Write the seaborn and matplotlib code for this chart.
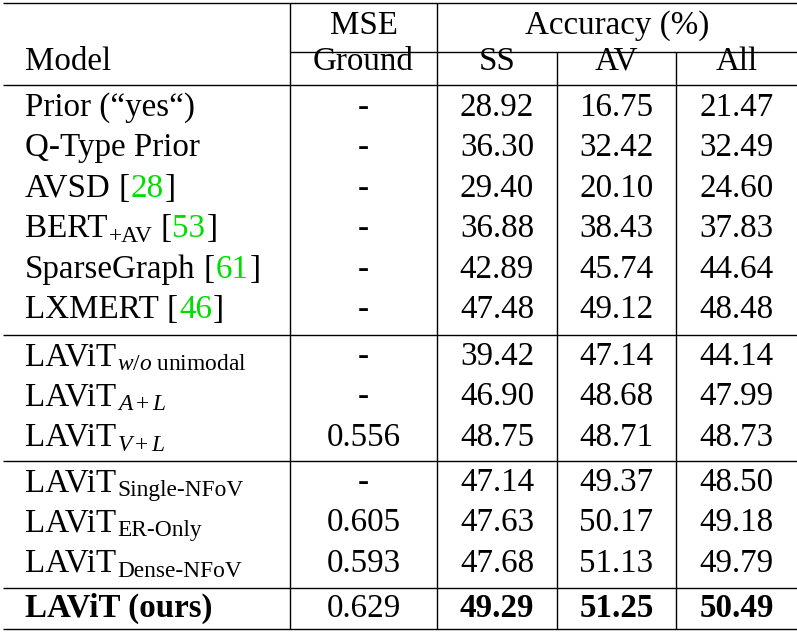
import matplotlib
matplotlib.use("Agg")
import matplotlib.pyplot as plt
import seaborn as sns
import pandas as pd

sns.set_theme(style="white")
plt.rcParams['font.family'] = ['Liberation Serif', 'DejaVu Serif']
plt.rcParams['text.color'] = 'black'
plt.rcParams['mathtext.fontset'] = 'custom'
plt.rcParams['mathtext.rm'] = 'Liberation Serif'
plt.rcParams['mathtext.it'] = 'Liberation Serif:italic'
plt.rcParams['mathtext.bf'] = 'Liberation Serif:bold'

# ===== DATA =====
models = ["Prior (\u201cyes\u201c)", "Q-Type Prior", "AVSD", "BERT", "SparseGraph", "LXMERT",
          "LAViT", "LAViT", "LAViT",
          "LAViT", "LAViT", "LAViT",
          "LAViT (ours)"]
subscripts = ["", "", "", "+AV", "", "",
              "$w/o$ unimodal", "$A+L$", "$V+L$",
              "Single-NFoV", "ER-Only", "Dense-NFoV",
              ""]
refs = ["", "", "28", "53", "61", "46", "", "", "", "", "", "", ""]
mse_ground = [None, None, None, None, None, None, None, None, 0.556, None, 0.605, 0.593, 0.629]
acc_ss = [28.92, 36.30, 29.40, 36.88, 42.89, 47.48, 39.42, 46.90, 48.75, 47.14, 47.63, 47.68, 49.29]
acc_av = [16.75, 32.42, 20.10, 38.43, 45.74, 49.12, 47.14, 48.68, 48.71, 49.37, 50.17, 51.13, 51.25]
acc_all = [21.47, 32.49, 24.60, 37.83, 44.64, 48.48, 44.14, 47.99, 48.73, 48.50, 49.18, 49.79, 50.49]
groups = [0, 0, 0, 0, 0, 0, 1, 1, 1, 2, 2, 2, 3]

df = pd.DataFrame({'model': models, 'sub': subscripts, 'ref': refs, 'mse': mse_ground,
                   'ss': acc_ss, 'av': acc_av, 'all': acc_all, 'group': groups})
df['pos'] = df.groupby('group').cumcount()

# ===== LAYOUT =====
W, H = 797, 633
FS = 23.8
SUB_FS = 16.8
GREEN = '#00dd00'
col_edges = [290, 437, 557, 676, W]
col_centers = [(col_edges[i] + col_edges[i + 1]) / 2 for i in range(4)]
group_start = [116, 365, 491, 617]
pitch = 40.4
group_lines = [85, 335, 461, 588, 629]

fig = plt.figure(figsize=(W / 100, H / 100), dpi=100)
ax = fig.add_axes([0, 0, 1, 1])
ax.set_xlim(0, W)
ax.set_ylim(H, 0)
ax.axis('off')
renderer = fig.canvas.get_renderer()


def draw_segments(x, y, segments):
    # segments: (text, size, color, weight, dy, gap_before)
    for text, size, color, weight, dy, gap in segments:
        x += gap
        t = ax.text(x, y + dy, text, fontsize=size, color=color, weight=weight,
                    ha='left', va='baseline')
        x += t.get_window_extent(renderer=renderer).width
    return x


# rules
ax.hlines([3] + group_lines, 3, W, color='black', lw=1.0)
ax.hlines(52, col_edges[0], W, color='black', lw=1.0)
ax.vlines(col_edges[:2], 3, group_lines[-1], color='black', lw=1.0)
ax.vlines(col_edges[2:4], 52, group_lines[-1], color='black', lw=1.0)

# header
ax.text(25, 70, "Model", fontsize=FS, ha='left', va='baseline')
ax.text(col_centers[0], 34, "MSE", fontsize=FS, ha='center', va='baseline')
ax.text(col_centers[0], 70, "Ground", fontsize=FS, ha='center', va='baseline')
ax.text((col_edges[1] + W) / 2, 34, "Accuracy (%)", fontsize=FS, ha='center', va='baseline')
for c, name in zip(col_centers[1:], ["SS", "AV", "All"]):
    ax.text(c, 70, name, fontsize=FS, ha='center', va='baseline')

# body
for _, row in df.iterrows():
    y = group_start[row['group']] + row['pos'] * pitch
    bold = row['group'] == 3
    wt = 'bold' if bold else 'normal'
    segs = [(row['model'], FS, 'black', wt, 0, 0)]
    if row['sub']:
        segs.append((row['sub'], SUB_FS, 'black', 'normal', 5, 1))
    if row['ref']:
        segs.append(("[", FS, 'black', 'normal', 0, 8))
        segs.append((row['ref'], FS, GREEN, 'normal', 0, 1))
        segs.append(("]", FS, 'black', 'normal', 0, 1))
    draw_segments(25, y, segs)

    mse_txt = "-" if pd.isna(row['mse']) else f"{row['mse']:.3f}"
    ax.text(col_centers[0], y, mse_txt, fontsize=FS, ha='center', va='baseline')
    for c, key in zip(col_centers[1:], ['ss', 'av', 'all']):
        ax.text(c, y, f"{row[key]:.2f}", fontsize=FS, ha='center', va='baseline', weight=wt)

fig.savefig("out.png", dpi=100, facecolor='white')
